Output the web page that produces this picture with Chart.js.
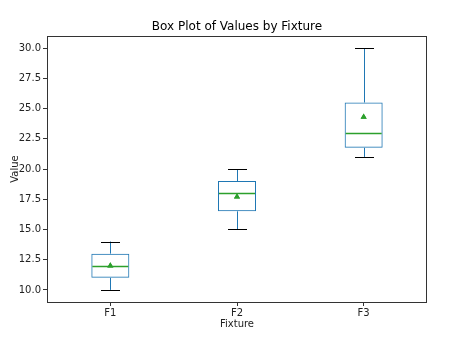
<!DOCTYPE html>
<html lang="en">
<head>
<meta charset="UTF-8">
<title>Box Plot of Values by Fixture</title>
<script src="https://cdn.jsdelivr.net/npm/chart.js"></script>
<style>
    body { margin: 0; padding: 0; background: #fff; }
    canvas { display: block; }
</style>
</head>
<body>
<canvas id="chart" width="474" height="355"></canvas>
<script>
    // data
    var fixtures = ['F1', 'F2', 'F3'];
    var whiskerLow = [10, 15, 21];
    var q1 = [11, 16.5, 21.75];
    var medians = [12, 18, 23];
    var q3 = [13, 19, 25.5];
    var whiskerHigh = [14, 20, 30];
    var means = [12, 17.7, 24.3];
    var yTicks = [10, 12.5, 15, 17.5, 20, 22.5, 25, 27.5, 30];

    var FONT = 'DejaVu Sans';
    var BLUE = '#1f77b4';
    var GREEN = '#2ca02c';

    // whiskers, caps, medians and the frame, drawn through the chart scales
    var boxParts = {
        id: 'boxParts',
        afterDatasetsDraw: function (chart) {
            var ctx = chart.ctx;
            var xs = chart.scales.x, ys = chart.scales.y;
            var bars = chart.getDatasetMeta(0).data;
            ctx.save();
            ctx.lineWidth = 1;
            for (var i = 0; i < fixtures.length; i++) {
                var x = Math.round(xs.getPixelForValue(i)) + 0.5;
                var w = bars[i].width;
                // whiskers
                ctx.strokeStyle = BLUE;
                ctx.beginPath();
                ctx.moveTo(x, ys.getPixelForValue(q3[i]));
                ctx.lineTo(x, ys.getPixelForValue(whiskerHigh[i]));
                ctx.moveTo(x, ys.getPixelForValue(q1[i]));
                ctx.lineTo(x, ys.getPixelForValue(whiskerLow[i]));
                ctx.stroke();
                // caps
                ctx.strokeStyle = '#000';
                ctx.beginPath();
                var yh = Math.round(ys.getPixelForValue(whiskerHigh[i])) + 0.5;
                var yl = Math.round(ys.getPixelForValue(whiskerLow[i])) + 0.5;
                ctx.moveTo(x - w / 4, yh); ctx.lineTo(x + w / 4, yh);
                ctx.moveTo(x - w / 4, yl); ctx.lineTo(x + w / 4, yl);
                ctx.stroke();
            }
            // medians
            ctx.strokeStyle = GREEN;
            ctx.lineWidth = 1.3;
            for (var j = 0; j < fixtures.length; j++) {
                var xm = xs.getPixelForValue(j);
                var wm = bars[j].width;
                var ym = Math.round(ys.getPixelForValue(medians[j])) + 0.5;
                ctx.beginPath();
                ctx.moveTo(xm - wm / 2 + 1, ym);
                ctx.lineTo(xm + wm / 2 - 1, ym);
                ctx.stroke();
            }
            // mean markers on top of the medians
            chart.getDatasetMeta(1).data.forEach(function (pt) { pt.draw(ctx, chart.chartArea); });
            // axes frame
            var a = chart.chartArea;
            ctx.lineWidth = 1;
            ctx.strokeStyle = '#333';
            ctx.strokeRect(Math.round(a.left) + 0.5, Math.round(a.top) + 0.5,
                Math.round(a.right - a.left) - 1, Math.round(a.bottom - a.top));
            ctx.restore();
        }
    };

    var ctx = document.getElementById('chart').getContext('2d');
    var chart = new Chart(ctx, {
        type: 'bar',
        data: {
            labels: fixtures,
            datasets: [{
                label: 'box',
                data: q1.map(function (v, i) { return [v, q3[i]]; }),
                backgroundColor: 'rgba(0,0,0,0)',
                borderColor: BLUE,
                borderWidth: 1,
                borderSkipped: false,
                barPercentage: 0.3,
                categoryPercentage: 1
            }, {
                type: 'line',
                label: 'mean',
                data: means,
                showLine: false,
                pointStyle: 'triangle',
                pointRadius: 3.5,
                pointBackgroundColor: GREEN,
                pointBorderColor: GREEN,
                pointBorderWidth: 0
            }]
        },
        options: {
            responsive: false,
            animation: false,
            layout: { padding: { left: 0, right: 0, top: 0, bottom: 24 } },
            plugins: {
                legend: { display: false },
                tooltip: { enabled: false },
                title: {
                    display: true,
                    text: 'Box Plot of Values by Fixture',
                    color: '#000',
                    font: { family: FONT, size: 12, weight: 'normal', lineHeight: 1.2 },
                    padding: { top: 20, bottom: 1.6 }
                }
            },
            scales: {
                x: {
                    offset: true,
                    border: { display: false },
                    grid: { drawOnChartArea: false, drawTicks: true, tickLength: 4, color: '#333', offset: false },
                    ticks: { color: '#222', padding: 1, font: { family: FONT, size: 10 }, maxRotation: 0 },
                    title: { display: true, text: 'Fixture', color: '#222', font: { family: FONT, size: 10, lineHeight: 1.2 }, padding: { top: 0, bottom: 1 } },
                    afterFit: function (scale) { scale.height = 29; }
                },
                y: {
                    min: 9,
                    max: 31,
                    border: { display: false },
                    grid: { drawOnChartArea: false, drawTicks: true, tickLength: 4, color: '#333' },
                    ticks: {
                        color: '#222', padding: 2, font: { family: FONT, size: 10 },
                        callback: function (v) { return Number(v).toFixed(1); }
                    },
                    afterBuildTicks: function (scale) {
                        scale.ticks = yTicks.map(function (v) { return { value: v }; });
                    },
                    title: { display: true, text: 'Value', color: '#222', font: { family: FONT, size: 10, lineHeight: 1.2 }, padding: { top: 9, bottom: 0 } },
                    afterFit: function (scale) { scale.width = 47; }
                },
                // empty right margin so the title centres over the plot
                yRight: {
                    position: 'right',
                    display: true,
                    border: { display: false },
                    grid: { display: false },
                    ticks: { display: false },
                    afterFit: function (scale) { scale.width = 47; }
                }
            }
        },
        plugins: [boxParts]
    });
</script>
</body>
</html>
